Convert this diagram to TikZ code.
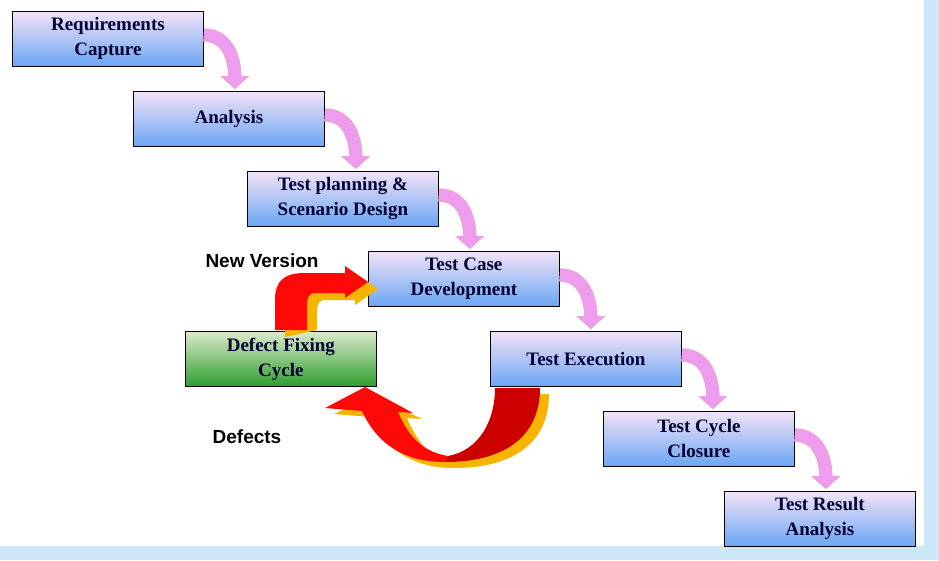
\documentclass[tikz,border=0pt]{standalone}
\usepackage{fontspec}
\setmainfont{Liberation Serif}
\newfontfamily\lsans{Liberation Sans}
\usetikzlibrary{arrows.meta,calc}
\definecolor{topc}{HTML}{F2E2F6}
\definecolor{botc}{HTML}{6AA6F4}
\definecolor{gtop}{HTML}{DCEACC}
\definecolor{gbot}{HTML}{2E9E2E}
\definecolor{pinkc}{HTML}{EE9CEE}
\definecolor{orc}{HTML}{F5B400}
\definecolor{strip}{HTML}{CCE8F8}
\definecolor{dred}{HTML}{CC0000}
\definecolor{bred}{HTML}{FF0808}
\tikzset{
 stage/.style={draw=black, line width=0.8pt, minimum width=191pt, minimum height=55pt, anchor=north west,
   top color=topc, bottom color=botc, align=center, font=\fontsize{19}{25}\selectfont\bfseries, text=black!80!blue, inner sep=0pt},
 defbox/.style={stage, top color=gtop, bottom color=gbot},
 pk/.style={draw=pinkc, line width=13pt, -{Triangle[width=28pt,length=13pt]}},
 pksh/.style={draw=orc, line width=13pt, -{Triangle[width=28pt,length=13pt]}},
 lbl/.style={font=\lsans\fontsize{19}{23}\selectfont\bfseries}
}
\newcommand\pkarrow[1]{%
 \begin{scope}[shift={(7,5)}]
 \draw[pksh] ($(#1.north east)+(0,24)$) .. controls +(25,0) and +(0,-28) .. ($(#1.north east)+(31,78)$);
 \end{scope}
 \draw[pk] ($(#1.north east)+(0,24)$) .. controls +(25,0) and +(0,-28) .. ($(#1.north east)+(31,78)$);}
\begin{document}
\begin{tikzpicture}[x=1pt,y=-1pt]
\useasboundingbox (0,0) rectangle (939,560);
\fill[white] (0,0) rectangle (939,560);
\fill[strip] (924,0) rectangle (939,560);
\fill[strip] (0,546) rectangle (939,560);
\node[stage] (b1) at (12,11) {Requirements\\Capture};
\node[stage] (b2) at (133,91) {Analysis};
\node[stage] (b3) at (247,171) {Test planning \&\\Scenario Design};
\node[stage] (b4) at (368,251) {Test Case\\Development};
\node[stage] (b5) at (490,331) {Test Execution};
\node[stage] (b6) at (603,411) {Test Cycle\\Closure};
\node[stage] (b7) at (724,491) {Test Result\\Analysis};
\node[defbox] (df) at (185,331) {Defect Fixing\\Cycle};
\pkarrow{b1}\pkarrow{b2}\pkarrow{b3}\pkarrow{b4}\pkarrow{b5}\pkarrow{b6}
% New version arrow
\begin{scope}[shift={(10,7)}]
\fill[orc] (275,330) -- (275,300) .. controls (275,280) and (285,273) .. (305,273) -- (345,273) -- (345,266) -- (368,282) -- (345,298) -- (345,293) -- (315,293) .. controls (310,293) and (307,296) .. (307,305) -- (307,323) -- cycle;
\end{scope}
\fill[bred] (275,330) -- (275,300) .. controls (275,280) and (285,273) .. (305,273) -- (345,273) -- (345,266) -- (368,282) -- (345,298) -- (345,293) -- (315,293) .. controls (310,293) and (307,296) .. (307,305) -- (307,330) -- cycle;
% defects loop
\begin{scope}[shift={(9,6)}]
\fill[orc] (540,388) .. controls (540,440) and (500,462) .. (445,462) .. controls (400,462) and (375,440) .. (362,411) -- (325,408) -- (365,390) -- (413,413) -- (398,412) .. controls (410,440) and (425,455) .. (445,455) .. controls (480,450) and (495,420) .. (495,388) -- cycle;
\end{scope}
\fill[bred] (445,462) .. controls (400,462) and (375,440) .. (362,411) -- (325,408) -- (365,387) -- (413,413) -- (398,412) .. controls (410,440) and (425,452) .. (448,456) -- cycle;
\fill[dred] (540,388) .. controls (540,440) and (500,462) .. (445,462) -- (448,456) .. controls (480,450) and (495,420) .. (495,388) -- cycle;
\node[lbl] (nv) at (262,261) {New Version};
\node[lbl] (dl) at (247,437) {Defects};
\end{tikzpicture}
\end{document}
